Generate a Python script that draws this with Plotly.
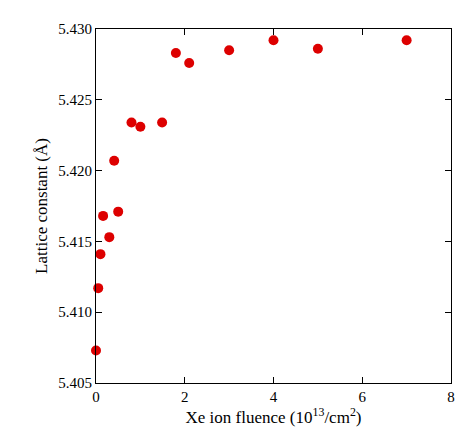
import plotly.graph_objects as go

fluence = [0, 0.05, 0.1, 0.16, 0.3, 0.41, 0.5, 0.8, 1.0, 1.49, 1.8, 2.1, 3.0, 4.0, 5.0, 7.0]
lattice = [5.4073, 5.4117, 5.4141, 5.4168, 5.4153, 5.4207, 5.4171, 5.4234, 5.4231, 5.4234,
           5.4283, 5.4276, 5.4285, 5.4292, 5.4286, 5.4292]

fig = go.Figure()
fig.add_trace(go.Scatter(x=fluence, y=lattice, mode='markers',
                         marker=dict(color='#dd0000', size=10), cliponaxis=False))

axis_style = dict(showline=True, linecolor='black', linewidth=1, mirror='ticks',
                  ticks='inside', ticklen=6, tickcolor='black', showgrid=False,
                  zeroline=False, automargin=False, tickfont=dict(size=15, color='black'))
fig.update_xaxes(range=[0, 8], dtick=2, title_text='Xe ion fluence (10<sup>13</sup>/cm<sup>2</sup>)',
                 title_font=dict(size=17, color='black'), title_standoff=6, **axis_style)
fig.update_yaxes(range=[5.405, 5.430], dtick=0.005, tickformat='.3f',
                 title_text='Lattice constant (Å)', title_font=dict(size=17, color='black'),
                 title_standoff=6, **axis_style)
fig.update_layout(width=474, height=435, margin=dict(l=88, r=31, t=21, b=60),
                  plot_bgcolor='white', paper_bgcolor='white', showlegend=False,
                  font=dict(family='Liberation Serif'))
fig.write_html("out.html")
